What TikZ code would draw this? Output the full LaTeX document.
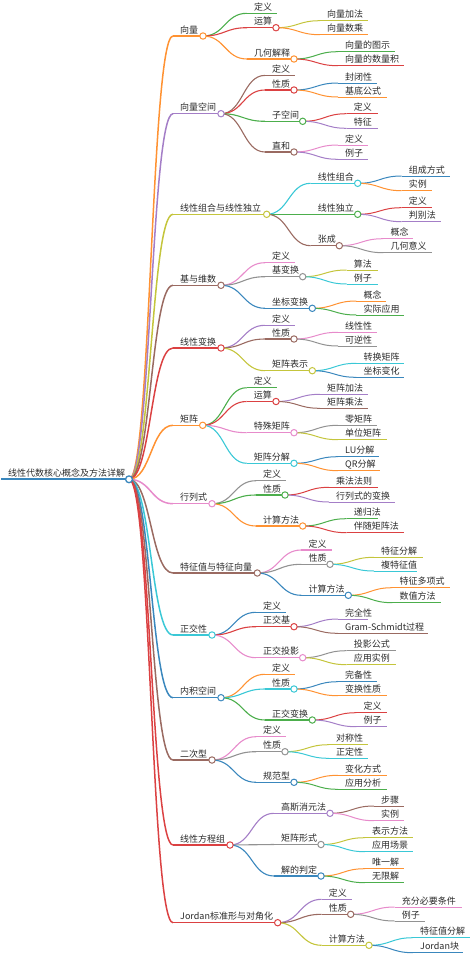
\documentclass[tikz,border=0pt]{standalone}
\usepackage{fontspec}
\setmainfont{Noto Sans CJK SC}
\usetikzlibrary{calc}
\pgfdeclarelayer{bg}
\pgfsetlayers{bg,main}
\definecolor{p0}{HTML}{1F77B4}
\definecolor{p1}{HTML}{FF7F0E}
\definecolor{p2}{HTML}{2CA02C}
\definecolor{p3}{HTML}{D62728}
\definecolor{p4}{HTML}{9467BD}
\definecolor{p5}{HTML}{8C564B}
\definecolor{p6}{HTML}{E377C2}
\definecolor{p7}{HTML}{7F7F7F}
\definecolor{p8}{HTML}{BCBD22}
\definecolor{p9}{HTML}{17BECF}
\colorlet{c0}{p0!88!white}
\colorlet{c1}{p1!85!white}
\colorlet{c2}{p2!85!white}
\colorlet{c3}{p3!88!white}
\colorlet{c4}{p4!85!white}
\colorlet{c5}{p5!88!white}
\colorlet{c6}{p6!85!white}
\colorlet{c7}{p7!85!white}
\colorlet{c8}{p8!88!white}
\colorlet{c9}{p9!85!white}
\definecolor{txt}{HTML}{2B2B2B}
\tikzset{
  mmtext/.style={inner sep=0pt, font=\fontsize{9}{10}\selectfont, text=txt},
  lw0/.style={line width=2pt},
  lw1/.style={line width=1.5pt},
  lw2/.style={line width=1.1pt},
  lw3/.style={line width=1pt},
  knob/.style={fill=white, line width=1pt},
}
% #1 parent, #2 name, #3 x start, #4 x end, #5 y, #6 style, #7 text
\newcommand\mmleaf[7]{%
  \coordinate (#2s) at (#3,#5);
  \coordinate (#2e) at (#4,#5);
  \node[mmtext, anchor=base west] (#2) at ($(#2s)+(7,-3)$) {#7};
  \begin{pgfonlayer}{bg}
    \draw[#6] (#2s) -- (#2e);
    \draw[#6] let \p1=(#1e), \p2=(#2s) in
      (\p1) .. controls ({(\x1+\x2)/2},\y1) and ({(\x1+\x2)/2},\y2) .. (\p2);
  \end{pgfonlayer}}
\newcommand\mmbranch[7]{%
  \mmleaf{#1}{#2}{#3}{#4}{#5}{#6}{#7}%
  \draw[#6, knob] (#2e) circle (3.2pt);}
\begin{document}
\begin{tikzpicture}[x=1pt, y=-1pt]
\useasboundingbox (0,0) rectangle (474,980);
% root
\coordinate (rs) at (1,479.3);
\coordinate (re) at (129,479.3);
\node[mmtext, anchor=base west] (r) at ($(rs)+(7,-3)$) {线性代数核心概念及方法详解};
\begin{pgfonlayer}{bg}\draw[c0,lw0] (rs) -- (re);\end{pgfonlayer}
\draw[c0, knob, line width=1.3pt] (re) circle (3.4pt);

% G1 向量
\mmbranch{r}{a}{173}{203}{36}{c1,lw1}{向量}
\mmleaf{a}{a1}{247}{277}{13.3}{c2,lw2}{定义}
\mmbranch{a}{a2}{247}{276}{27.7}{c3,lw2}{运算}
\mmbranch{a}{a3}{247}{294}{59}{c1,lw2}{几何解释}
\mmleaf{a2}{a21}{320}{368}{20.7}{c8,lw3}{向量加法}
\mmleaf{a2}{a22}{320}{368}{34.7}{c1,lw3}{向量数乘}
\mmleaf{a3}{a31}{338}{395}{51.7}{c2,lw3}{向量的图示}
\mmleaf{a3}{a32}{338}{404}{65.7}{c3,lw3}{向量的数量积}

% G2 向量空间
\mmbranch{r}{b}{173}{221}{113.7}{c4,lw1}{向量空间}
\mmleaf{b}{b1}{265}{295}{75.4}{c5,lw2}{定义}
\mmbranch{b}{b2}{265}{294}{90}{c3,lw2}{性质}
\mmbranch{b}{b3}{265}{302.7}{121.3}{c2,lw2}{子空间}
\mmbranch{b}{b4}{265}{294}{152}{c5,lw2}{直和}
\mmleaf{b2}{b21}{338}{377}{83}{c0,lw3}{封闭性}
\mmleaf{b2}{b22}{338}{387}{97}{c1,lw3}{基底公式}
\mmleaf{b3}{b31}{346.7}{378}{113.7}{c3,lw3}{定义}
\mmleaf{b3}{b32}{346.7}{378}{128.3}{c4,lw3}{特征}
\mmleaf{b4}{b41}{338}{368}{145}{c6,lw3}{定义}
\mmleaf{b4}{b42}{338}{368}{159.3}{c4,lw3}{例子}

% G3 线性组合与线性独立
\mmbranch{r}{c}{173}{266.7}{214.3}{c8,lw1}{线性组合与线性独立}
\mmbranch{c}{c1}{310.7}{357.7}{183.3}{c9,lw2}{线性组合}
\mmbranch{c}{c2}{310.7}{357.7}{214.3}{c2,lw2}{线性独立}
\mmbranch{c}{c3}{310.7}{339.3}{245.7}{c5,lw2}{张成}
\mmleaf{c1}{c11}{401.7}{450}{176}{c0,lw3}{组成方式}
\mmleaf{c1}{c12}{401.7}{431.7}{190.7}{c1,lw3}{实例}
\mmleaf{c2}{c21}{401.7}{431.7}{207.7}{c3,lw3}{定义}
\mmleaf{c2}{c22}{401.7}{440.7}{221.7}{c4,lw3}{判别法}
\mmleaf{c3}{c31}{383.3}{413.3}{238.7}{c6,lw3}{概念}
\mmleaf{c3}{c32}{383.3}{431.7}{252.7}{c7,lw3}{几何意义}

% G4 基与维数
\mmbranch{r}{d}{173}{221}{285.3}{c5,lw1}{基与维数}
\mmleaf{d}{d1}{265}{295}{262.7}{c6,lw2}{定义}
\mmbranch{d}{d2}{265}{302.7}{276.7}{c7,lw2}{基变换}
\mmbranch{d}{d3}{265}{312.3}{308.3}{c0,lw2}{坐标变换}
\mmleaf{d2}{d21}{346.7}{377.7}{270}{c8,lw3}{算法}
\mmleaf{d2}{d22}{346.7}{377.7}{284}{c9,lw3}{例子}
\mmleaf{d3}{d31}{356.3}{386}{301}{c1,lw3}{概念}
\mmleaf{d3}{d32}{356.3}{404.3}{315}{c2,lw3}{实际应用}

% G5 线性变换
\mmbranch{r}{e}{173}{221}{348}{c3,lw1}{线性变换}
\mmleaf{e}{e1}{265}{295}{325.3}{c4,lw2}{定义}
\mmbranch{e}{e2}{265}{294}{339}{c5,lw2}{性质}
\mmbranch{e}{e3}{265}{312.3}{370.7}{c8,lw2}{矩阵表示}
\mmleaf{e2}{e21}{338}{376.7}{332.3}{c6,lw3}{线性性}
\mmleaf{e2}{e22}{338}{376.7}{346}{c7,lw3}{可逆性}
\mmleaf{e3}{e31}{356.3}{404.3}{363.3}{c9,lw3}{转换矩阵}
\mmleaf{e3}{e32}{356.3}{404.3}{377.3}{c0,lw3}{坐标变化}

% G6 矩阵
\mmbranch{r}{f}{173}{202.7}{425.3}{c1,lw1}{矩阵}
\mmleaf{f}{f1}{246.7}{276.7}{387.7}{c2,lw2}{定义}
\mmbranch{f}{f2}{246.7}{276}{401.5}{c3,lw2}{运算}
\mmbranch{f}{f3}{246.7}{294}{432.7}{c6,lw2}{特殊矩阵}
\mmbranch{f}{f4}{246.7}{294}{463.3}{c9,lw2}{矩阵分解}
\mmleaf{f2}{f21}{320}{368.3}{394.3}{c4,lw3}{矩阵加法}
\mmleaf{f2}{f22}{320}{368.3}{408.3}{c5,lw3}{矩阵乘法}
\mmleaf{f3}{f31}{338}{376.7}{425.3}{c7,lw3}{零矩阵}
\mmleaf{f3}{f32}{338}{386.7}{439.7}{c8,lw3}{单位矩阵}
\mmleaf{f4}{f41}{338}{379.3}{456.7}{c0,lw3}{LU分解}
\mmleaf{f4}{f42}{338}{380}{470.7}{c1,lw3}{QR分解}

% G7 行列式
\mmbranch{r}{g}{173}{212}{503.7}{c6,lw1}{行列式}
\mmleaf{g}{g1}{256}{286}{480.7}{c7,lw2}{定义}
\mmbranch{g}{g2}{256}{285}{495}{c2,lw2}{性质}
\mmbranch{g}{g3}{256}{302.7}{526}{c1,lw2}{计算方法}
\mmleaf{g2}{g21}{329}{377.7}{487.3}{c3,lw3}{乘法法则}
\mmleaf{g2}{g22}{329}{395}{502}{c4,lw3}{行列式的变换}
\mmleaf{g3}{g31}{346.7}{377.7}{518.7}{c2,lw3}{递归法}
\mmleaf{g3}{g32}{346.7}{404.3}{532.7}{c3,lw3}{伴随矩阵法}

% G8 特征值与特征向量
\mmbranch{r}{h}{173}{257.3}{573}{c5,lw1}{特征值与特征向量}
\mmleaf{h}{h1}{301.3}{331.7}{550}{c6,lw2}{定义}
\mmbranch{h}{h2}{301.3}{330}{564.3}{c7,lw2}{性质}
\mmbranch{h}{h3}{301.3}{348.3}{595.3}{c0,lw2}{计算方法}
\mmleaf{h2}{h21}{374}{422.7}{557.3}{c8,lw3}{特征分解}
\mmleaf{h2}{h22}{374}{416.7}{571}{c9,lw3}{複特征值}
\mmleaf{h3}{h31}{392.3}{450}{587.7}{c1,lw3}{特征多项式}
\mmleaf{h3}{h32}{392.3}{440.7}{602.7}{c2,lw3}{数值方法}

% G9 正交性
\mmbranch{r}{i}{173}{212}{635}{c9,lw1}{正交性}
\mmleaf{i}{i1}{256}{286}{612.3}{c0,lw2}{定义}
\mmbranch{i}{i2}{256}{294}{626.7}{c3,lw2}{正交基}
\mmbranch{i}{i3}{256}{302.7}{657.7}{c6,lw2}{正交投影}
\mmleaf{i2}{i21}{338}{368.3}{619}{c4,lw3}{完全性}
\mmleaf{i2}{i22}{338}{428.3}{633.3}{c5,lw3}{Gram-Schmidt过程}
\mmleaf{i3}{i31}{346.7}{395.7}{650.7}{c7,lw3}{投影公式}
\mmleaf{i3}{i32}{346.7}{395.7}{664.7}{c8,lw3}{应用实例}

% G10 内积空间
\mmbranch{r}{j}{173}{221}{697.7}{c0,lw1}{内积空间}
\mmleaf{j}{j1}{265}{295}{674.3}{c1,lw2}{定义}
\mmbranch{j}{j2}{265}{294}{689}{c9,lw2}{性质}
\mmbranch{j}{j3}{265}{312.3}{720}{c2,lw2}{正交变换}
\mmleaf{j2}{j21}{338}{376.7}{681.7}{c0,lw3}{完备性}
\mmleaf{j2}{j22}{338}{386.7}{695.7}{c1,lw3}{变换性质}
\mmleaf{j3}{j31}{356.3}{386.7}{712.7}{c3,lw3}{定义}
\mmleaf{j3}{j32}{356.3}{386.7}{726.7}{c4,lw3}{例子}

% G11 二次型
\mmbranch{r}{k}{173}{212}{760}{c5,lw1}{二次型}
\mmleaf{k}{k1}{256}{286}{736.7}{c6,lw2}{定义}
\mmbranch{k}{k2}{256}{285}{751.7}{c7,lw2}{性质}
\mmbranch{k}{k3}{256}{294}{782.3}{c0,lw2}{规范型}
\mmleaf{k2}{k21}{329}{368.3}{744.7}{c8,lw3}{对称性}
\mmleaf{k2}{k22}{329}{368.3}{758.3}{c9,lw3}{正定性}
\mmleaf{k3}{k31}{338}{386.7}{775.3}{c1,lw3}{变化方式}
\mmleaf{k3}{k32}{338}{386.7}{789.3}{c2,lw3}{应用分析}

% G12 线性方程组
\mmbranch{r}{l}{173}{230}{845}{c3,lw1}{线性方程组}
\mmbranch{l}{l1}{274}{330}{813.3}{c4,lw2}{高斯消元法}
\mmbranch{l}{l2}{274}{321}{844.5}{c7,lw2}{矩阵形式}
\mmbranch{l}{l3}{274}{321}{876}{c0,lw2}{解的判定}
\mmleaf{l1}{l11}{374}{404.3}{806}{c5,lw3}{步骤}
\mmleaf{l1}{l12}{374}{404.3}{820.7}{c6,lw3}{实例}
\mmleaf{l2}{l21}{365}{413.3}{837.7}{c8,lw3}{表示方法}
\mmleaf{l2}{l22}{365}{413.3}{851.7}{c9,lw3}{应用场景}
\mmleaf{l3}{l31}{365}{404.3}{868.7}{c1,lw3}{唯一解}
\mmleaf{l3}{l32}{365}{404.3}{882.7}{c2,lw3}{无限解}

% G13 Jordan标准形与对角化
\mmbranch{r}{m}{173}{277.7}{922.7}{c3,lw1}{Jordan标准形与对角化}
\mmleaf{m}{m1}{321.7}{351.7}{899.3}{c4,lw2}{定义}
\mmbranch{m}{m2}{321.7}{350.7}{914.3}{c5,lw2}{性质}
\mmbranch{m}{m3}{321.7}{369}{945.3}{c8,lw2}{计算方法}
\mmleaf{m2}{m21}{394.7}{461.7}{907}{c6,lw3}{充分必要条件}
\mmleaf{m2}{m22}{394.7}{425}{921}{c7,lw3}{例子}
\mmleaf{m3}{m31}{413}{470}{937.7}{c9,lw3}{特征值分解}
\mmleaf{m3}{m32}{413}{463.3}{952.7}{c0,lw3}{Jordan块}
\end{tikzpicture}
\end{document}
